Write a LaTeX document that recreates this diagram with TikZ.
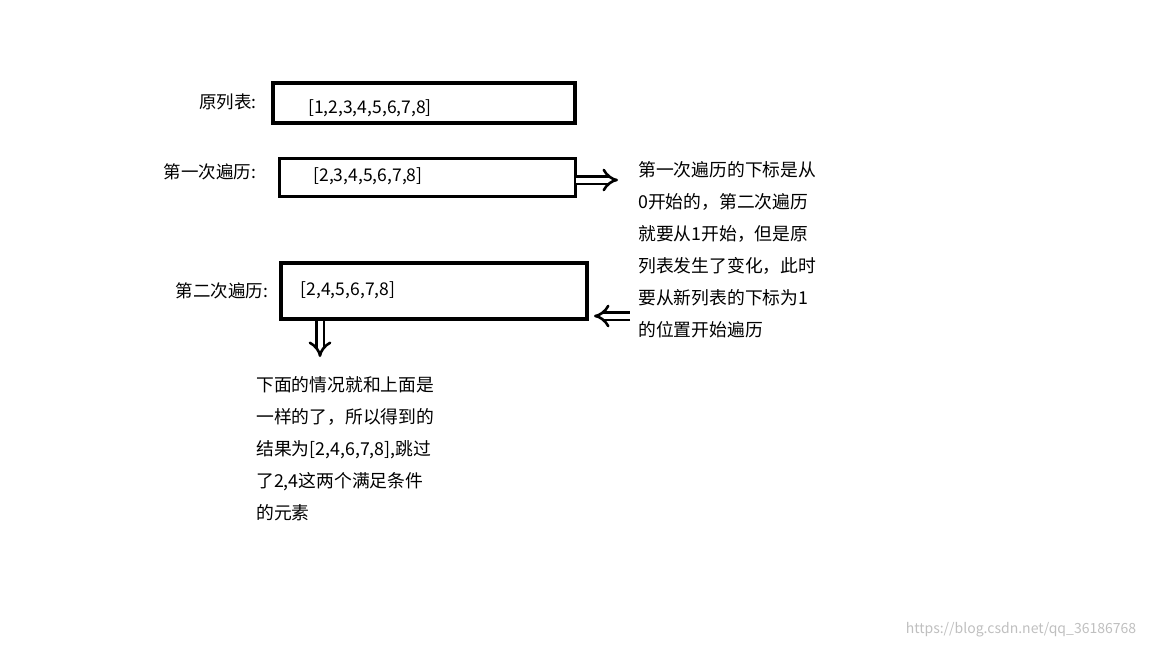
\documentclass[tikz,border=0pt]{standalone}
\usepackage{fontspec}
\setmainfont{Noto Sans CJK SC}
\usetikzlibrary{arrows.meta,positioning}
\tikzset{
  listbox/.style={draw,line width=4pt,inner sep=0pt,anchor=north west},
  lbl/.style={font=\fontsize{17.5}{20}\selectfont,inner sep=0pt},
  note/.style={font=\fontsize{17.8}{32}\selectfont,align=left,inner sep=0pt,anchor=north west},
  hollow/.style={double,double distance=5pt,line width=2.6pt,-{Implies[length=9pt,width=18pt]}}
}
\begin{document}
\begin{tikzpicture}[x=1pt,y=-1pt]
  \useasboundingbox (0,0) rectangle (1152,648);
  \node[listbox,minimum width=302pt,minimum height=40pt] (b1) at (271,81) {};
  \node[listbox,line width=3pt,minimum width=296pt,minimum height=38pt] (b2) at (278,157) {};
  \node[listbox,minimum width=306pt,minimum height=56pt] (b3) at (279,261) {};
  \node[lbl] (t1) at (370,108) {[1,2,3,4,5,6,7,8]};
  \node[lbl] (t2) at (368,176) {[2,3,4,5,6,7,8]};
  \node[lbl] (t3) at (348,290) {[2,4,5,6,7,8]};
  \node[lbl] (l1) at (228,102) {原列表:};
  \node[lbl] (l2) at (210,172) {第一次遍历:};
  \node[lbl] (l3) at (222,291) {第二次遍历:};
  \node[note] (n1) at (638,161) {第一次遍历的下标是从\\0开始的，第二次遍历\\就要从1开始，但是原\\列表发生了变化，此时\\要从新列表的下标为1\\的位置开始遍历};
  \node[note] (n2) at (256,376) {下面的情况就和上面是\\一样的了，所以得到的\\结果为[2,4,6,7,8],跳过\\了2,4这两个满足条件\\的元素};
  \coordinate (a1) at (576,180);
  \coordinate (a2) at (618,180);
  \coordinate (a3) at (630,316);
  \coordinate (a4) at (594,316);
  \coordinate (a5) at (320,321);
  \coordinate (a6) at (320,357);
  \draw[hollow] (a1) -- (a2);
  \draw[hollow] (a3) -- (a4);
  \draw[hollow] (a5) -- (a6);
  \node[font=\fontsize{14}{16}\selectfont,text=black!25] (wm) at (1021,630) {https://blog.csdn.net/qq\_36186768};
\end{tikzpicture}
\end{document}
